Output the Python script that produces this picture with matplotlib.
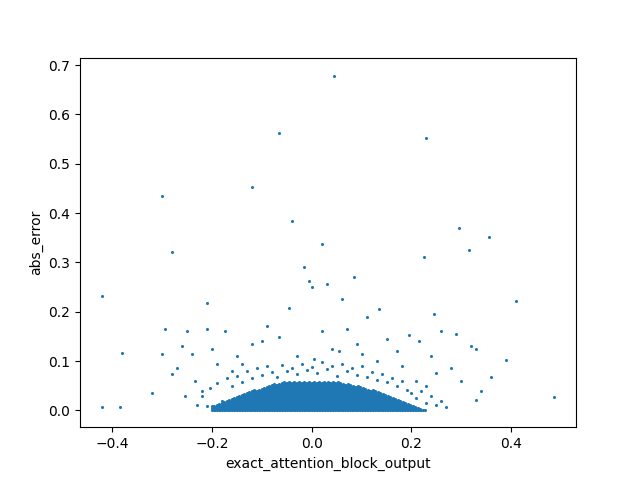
import matplotlib
matplotlib.use("Agg")
import matplotlib.pyplot as plt

# sparse points
outlier_x = [0.045, -0.065, 0.23, -0.12, -0.30, -0.04, 0.295, 0.355, 0.02, 0.315, -0.28, 0.225,
             -0.015, 0.085, -0.005, 0.0, 0.03, -0.42, 0.41, -0.21, -0.045, 0.06, 0.245, 0.135,
             0.11, -0.38, -0.30, -0.295, -0.42, -0.385, -0.32, 0.485, 0.39, 0.36, 0.33, 0.33,
             0.27, -0.25, -0.21, -0.175, -0.09, -0.065, 0.26, 0.195, 0.215, 0.29, 0.32, -0.26,
             -0.24, -0.27, -0.28, -0.20, -0.12, -0.15, 0.02, 0.07, 0.09, 0.15, 0.17, 0.24,
             0.28, 0.25, -0.235, -0.19, -0.16, -0.10, 0.04, -0.03, 0.13, 0.18, 0.30, 0.34,
             -0.22, -0.255, 0.21, 0.23, -0.14, 0.005, 0.055, 0.10]
outlier_y = [0.678, 0.562, 0.552, 0.452, 0.435, 0.383, 0.370, 0.352, 0.337, 0.325, 0.322, 0.310,
             0.290, 0.270, 0.262, 0.250, 0.256, 0.232, 0.222, 0.218, 0.207, 0.226, 0.195, 0.205,
             0.190, 0.117, 0.115, 0.165, 0.006, 0.006, 0.035, 0.028, 0.103, 0.068, 0.125, 0.022,
             0.006, 0.160, 0.165, 0.160, 0.172, 0.148, 0.160, 0.152, 0.140, 0.155, 0.130, 0.130,
             0.115, 0.085, 0.073, 0.125, 0.135, 0.110, 0.160, 0.165, 0.135, 0.145, 0.120, 0.110,
             0.085, 0.075, 0.060, 0.095, 0.080, 0.140, 0.125, 0.110, 0.100, 0.090, 0.060, 0.040,
             0.040, 0.030, 0.060, 0.050, 0.095, 0.105, 0.120, 0.115]

# fringe around the dense band
fringe_x = [-0.23, -0.22, -0.21, -0.205, -0.19, -0.18, -0.17, -0.16, -0.15, -0.14, -0.13, -0.12,
            -0.11, -0.10, -0.09, -0.08, -0.07, -0.06, -0.05, -0.04, -0.03, -0.02, -0.01, 0.00,
            0.01, 0.02, 0.03, 0.04, 0.05, 0.06, 0.07, 0.08, 0.09, 0.10, 0.11, 0.12, 0.13,
            0.14, 0.15, 0.16, 0.17, 0.18, 0.19, 0.20, 0.21, 0.22, 0.23, 0.24, 0.25, 0.26]
fringe_y = [0.012, 0.030, 0.008, 0.045, 0.055, 0.020, 0.065, 0.050, 0.070, 0.058, 0.080, 0.066,
            0.085, 0.072, 0.090, 0.078, 0.068, 0.092, 0.080, 0.086, 0.074, 0.095, 0.082, 0.088,
            0.076, 0.098, 0.084, 0.090, 0.070, 0.094, 0.080, 0.086, 0.072, 0.090, 0.068, 0.078,
            0.062, 0.074, 0.058, 0.066, 0.050, 0.060, 0.042, 0.035, 0.025, 0.040, 0.015, 0.030,
            0.010, 0.020]

# dense band near zero error
cluster_x = [-0.20, -0.19, -0.18, -0.17, -0.16, -0.15, -0.14, -0.13, -0.12, -0.11, -0.10, -0.09,
             -0.08, -0.07, -0.06, -0.05, -0.04, -0.03, -0.02, -0.01, 0.00, 0.01, 0.02, 0.03,
             0.04, 0.05, 0.06, 0.07, 0.08, 0.09, 0.10, 0.11, 0.12, 0.13, 0.14, 0.15, 0.16,
             0.17, 0.18, 0.19, 0.20, 0.21, 0.22]
cluster_y = [0.000, 0.004, 0.008, 0.012, 0.016, 0.020, 0.024, 0.028, 0.032, 0.036, 0.040, 0.044,
             0.048, 0.052, 0.056, 0.060, 0.065]
band_top = [0.008, 0.012, 0.016, 0.020, 0.024, 0.028, 0.032, 0.036, 0.040, 0.040, 0.044, 0.048,
            0.052, 0.052, 0.056, 0.056, 0.056, 0.056, 0.056, 0.056, 0.056, 0.056, 0.056, 0.056,
            0.056, 0.056, 0.052, 0.052, 0.048, 0.048, 0.044, 0.040, 0.040, 0.036, 0.032, 0.028,
            0.024, 0.020, 0.016, 0.012, 0.008, 0.004, 0.000]
shift_x = [0.0, 0.0035, 0.0065]
shift_y = [0.0, 0.0018, -0.0012]

xs = list(outlier_x) + list(fringe_x)
ys = list(outlier_y) + list(fringe_y)
for x, top in zip(cluster_x, band_top):
    for y in cluster_y:
        if y <= top:
            for sx, sy in zip(shift_x, shift_y):
                xs.append(x + sx)
                ys.append(max(y + sy, 0.0))

fig, ax = plt.subplots(figsize=(6.4, 4.8), dpi=100)
ax.scatter(xs, ys, s=1.5, color="#1f77b4")
ax.set_xlim(-0.465, 0.53)
ax.set_ylim(-0.034, 0.715)
ax.set_xlabel("exact_attention_block_output")
ax.set_ylabel("abs_error")
fig.savefig("out.png")
